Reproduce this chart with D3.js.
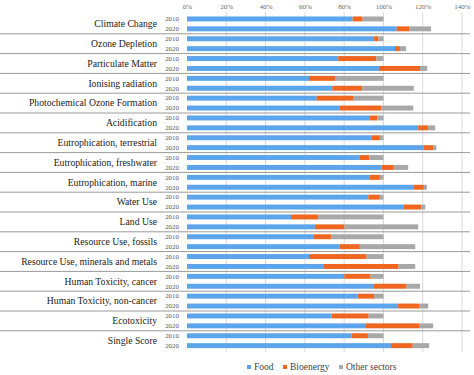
<!DOCTYPE html>
<html>
<head>
<meta charset="utf-8">
<script src="https://cdn.jsdelivr.net/npm/d3@7"></script>
<style>
body { margin: 0; background: #fff; }
svg { display: block; }
svg text { font-family: "Liberation Serif", "DejaVu Serif", "Times New Roman", serif; }
.x-axis path, .x-axis line { display: none; }
</style>
</head>
<body>
<svg id="chart" width="474" height="375"></svg>
<script>
// categories, top to bottom
var categories = ["Climate Change","Ozone Depletion","Particulate Matter","Ionising radiation",
    "Photochemical Ozone Formation","Acidification","Eutrophication, terrestrial",
    "Eutrophication, freshwater","Eutrophication, marine","Water Use","Land Use",
    "Resource Use, fossils","Resource Use, minerals and metals","Human Toxicity, cancer",
    "Human Toxicity, non-cancer","Ecotoxicity","Single Score"];
var years = ["2010","2020"];
var seriesNames = ["Food","Bioenergy","Other sectors"];
var ticks = [0,20,40,60,80,100,120,140];

// values in %, two per category (2010, 2020)
var food = [84.3,106.7, 95.3,105.9, 77.0,97.7, 62.1,74.0, 66.0,77.5, 92.8,117.7,
    94.1,120.3, 87.7,99.1, 93.1,115.2, 92.3,110.1, 52.9,65.1, 64.6,77.7,
    62.1,69.7, 80.1,95.2, 86.9,107.5, 73.6,91.1, 83.8,103.8];
var bioenergy = [5.1,6.4, 2.2,2.5, 19.5,20.9, 13.6,15.2, 18.5,21.4, 4.0,5.1,
    4.1,5.0, 5.1,6.2, 5.1,5.4, 5.9,9.3, 13.9,15.1, 8.8,10.3,
    29.3,38.0, 13.4,16.6, 8.3,10.6, 18.9,27.0, 8.3,11.1];
var other = [10.6,11.1, 2.5,3.1, 3.5,3.7, 24.3,26.3, 15.5,16.3, 3.2,3.6,
    1.8,1.6, 7.2,7.3, 1.8,1.5, 1.8,1.9, 33.2,37.5, 26.6,28.2,
    8.6,8.5, 6.5,6.8, 4.8,4.7, 7.5,7.2, 7.9,8.4];

var colors = ["#5aa5eb","#ee661f","#a8a8a8"];
var serif = "Liberation Serif, DejaVu Serif, serif";

var svg = d3.select("#chart");

var rows = [];
categories.forEach(function(c, i){
    years.forEach(function(y, j){
        var k = i*2 + j;
        rows.push({key: c + "|" + y, cat: c, year: y, Food: food[k], Bioenergy: bioenergy[k], "Other sectors": other[k]});
    });
});

var x = d3.scaleLinear().domain([0,140]).range([187, 462]);
var y = d3.scaleBand().domain(rows.map(function(d){ return d.key; }))
    .range([14, 350.6]).paddingInner(0.5).paddingOuter(0.25);
var step = y.step();

// vertical gridlines
svg.append("g").selectAll("line").data(ticks.slice(1)).enter().append("line")
    .attr("x1", function(d){ return x(d); }).attr("x2", function(d){ return x(d); })
    .attr("y1", 12).attr("y2", 352)
    .attr("stroke", "#dadada").attr("stroke-width", 1);

// separators between categories
svg.append("g").selectAll("line").data(categories.slice(1)).enter().append("line")
    .attr("x1", 0).attr("x2", 470)
    .attr("y1", function(d, i){ return 14 + (i+1)*2*step; })
    .attr("y2", function(d, i){ return 14 + (i+1)*2*step; })
    .attr("stroke", "#9a9a9a").attr("stroke-width", 1);

// top axis
var xAxis = svg.append("g").attr("class", "x-axis")
    .attr("transform", "translate(0,9)")
    .call(d3.axisTop(x).tickValues(ticks).tickFormat(function(d){ return d + "%"; }).tickSize(0).tickPadding(0));
xAxis.attr("font-family", serif);
xAxis.selectAll("text").attr("font-size", 7).attr("fill", "#666");

// stacked bars
var stack = d3.stack().keys(seriesNames);
var layers = stack(rows);
svg.append("g").selectAll("g").data(layers).enter().append("g")
    .attr("fill", function(d, i){ return colors[i]; })
    .selectAll("rect").data(function(d){ return d; }).enter().append("rect")
    .attr("x", function(d){ return x(d[0]); })
    .attr("width", function(d){ return x(d[1]) - x(d[0]); })
    .attr("y", function(d){ return y(d.data.key); })
    .attr("height", y.bandwidth());

// year labels
svg.append("g").selectAll("text").data(rows).enter().append("text")
    .attr("x", 172).attr("y", function(d){ return y(d.key) + y.bandwidth()/2 + 2.3; })
    .attr("text-anchor", "middle").attr("font-size", 6.8).attr("fill", "#555")
    .attr("font-family", serif)
    .text(function(d){ return d.year; });

// category labels
svg.append("g").selectAll("text").data(categories).enter().append("text")
    .attr("x", 157).attr("y", function(d, i){ return 14 + (i*2+1)*step + 3.3; })
    .attr("text-anchor", "end").attr("font-size", 9.7).attr("fill", "#222")
    .attr("font-family", serif)
    .text(function(d){ return d; });

// legend
var legendX = [247, 283, 339];
var legend = svg.append("g").selectAll("g").data(seriesNames).enter().append("g")
    .attr("transform", function(d, i){ return "translate(" + legendX[i] + ",367)"; });
legend.append("rect").attr("x", 0).attr("y", -2).attr("width", 4).attr("height", 4)
    .attr("fill", function(d, i){ return colors[i]; });
legend.append("text").attr("x", 7).attr("y", 3).attr("font-size", 9.5).attr("fill", "#444")
    .attr("font-family", serif)
    .text(function(d){ return d; });
</script>
</body>
</html>
